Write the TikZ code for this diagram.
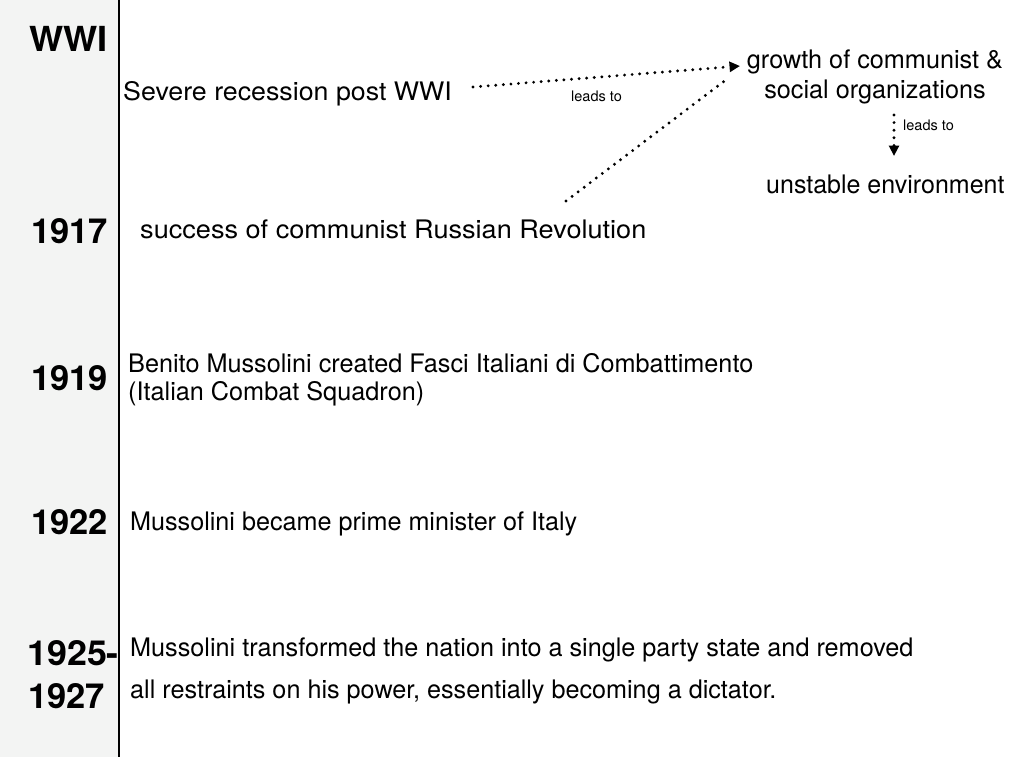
\documentclass[tikz,border=0pt]{standalone}
\usepackage{fontspec}
\usepackage{graphicx}
\setmainfont{TeX Gyre Heros}
\usetikzlibrary{arrows.meta}
\definecolor{stripgray}{HTML}{F3F4F3}
\newcommand\hsc[2]{\scalebox{#1}[1]{#2}}
\begin{document}
\begin{tikzpicture}[x=1pt,y=-1pt,
  body/.style={font=\fontsize{25.5}{30}\selectfont, inner sep=0pt, anchor=base west},
  year/.style={font=\fontsize{34.5}{40}\selectfont\bfseries, inner sep=0pt, anchor=base east},
  small/.style={font=\fontsize{14.5}{17}\selectfont, inner sep=0pt, anchor=base west},
  dotline/.style={line width=3.2pt, dash pattern=on 0pt off 7.6pt, line cap=round},
  tip/.style={-{Triangle[length=10.5pt,width=10pt]}}]
\useasboundingbox (0,0) rectangle (1016,757);
\fill[white] (0,0) rectangle (1016,757);
\fill[stripgray] (0,0) rectangle (117.5,757);
\draw[line width=2pt] (118.7,0) -- (118.7,757);

\node[year] (wwi) at (108,52) {\hsc{1.05}{WWI}};
\node[body] (severe) at (123,100) {\hsc{1.05}{Severe recession post WWI}};
\node[body, anchor=base] (growth1) at (875,69) {\hsc{0.99}{growth of communist \&}};
\node[body, anchor=base] (growth2) at (875,99) {\hsc{0.99}{social organizations}};
\node[small] (lead1) at (571,102) {leads to};
\node[small] (lead2) at (903,131) {leads to};
\node[body] (unstable) at (766,193) {\hsc{0.98}{unstable environment}};

\node[year] (y1917) at (108,243) {1917};
\node[body] (russia) at (140,238) {\hsc{1.063}{success of communist Russian Revolution}};

\node[year] (y1919) at (108,390) {1919};
\node[body] (fasci1) at (128,372) {\hsc{0.99}{Benito Mussolini created Fasci Italiani di Combattimento}};
\node[body] (fasci2) at (128,400) {\hsc{0.99}{(Italian Combat Squadron)}};

\node[year] (y1922) at (108,534) {1922};
\node[body] (pm) at (130,530) {\hsc{0.987}{Mussolini became prime minister of Italy}};

\node[year, anchor=base west] (y1925) at (27,665) {\hsc{1.04}{1925-}};
\node[year, anchor=base west] (y1927) at (28,708) {1927};
\node[body] (trans1) at (130,656) {\hsc{0.989}{Mussolini transformed the nation into a single party state and removed}};
\node[body] (trans2) at (130,698) {\hsc{0.988}{all restraints on his power, essentially becoming a dictator.}};

\coordinate (s1) at (473,87);
\coordinate (t1) at (740,66);
\coordinate (s2) at (566,201);
\coordinate (e2) at (727,79);
\coordinate (s3) at (894,115);
\coordinate (t3) at (894,156);

\draw[dotline,tip] (s1) -- (t1);
\draw[dotline] (s2) -- (e2);
\draw[dotline,tip] (s3) -- (t3);
\end{tikzpicture}
\end{document}
